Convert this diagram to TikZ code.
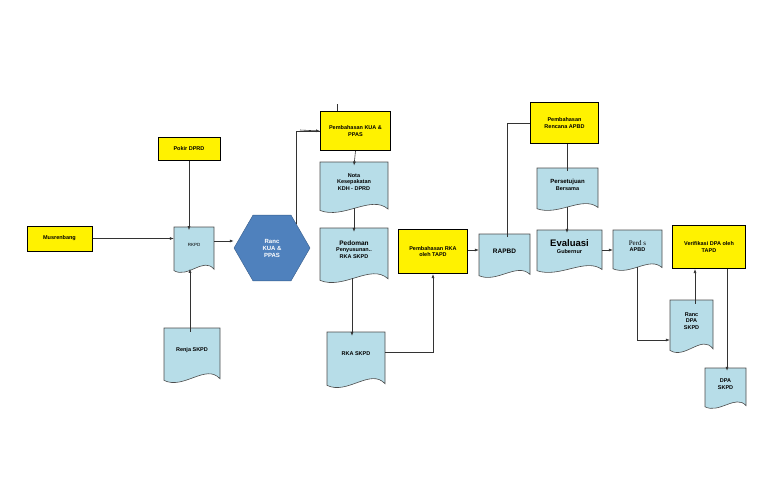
\documentclass[tikz,border=0pt]{standalone}
\usepackage{fontspec}
\setmainfont{Liberation Sans}
\newfontfamily\serifx{Liberation Serif}
\usetikzlibrary{shapes.geometric,arrows.meta}
\tikzset{x=1pt,y=-1pt,
 ybox/.style={draw=black,line width=1pt,fill=yellow,align=center,font=\fontsize{5.5}{6.5}\selectfont\bfseries,inner sep=1pt},
 con/.style={draw=black!80,line width=0.6pt},
 arr/.style={con,-{Latex[length=4pt,width=3pt]}},
 dtext/.style={align=center,font=\fontsize{5.5}{6.5}\selectfont\bfseries,inner sep=1pt}}
\newcommand\docbox[6]{% name x1 y1 x2 y2 text
 \path[fill={rgb,255:red,183;green,221;blue,232},draw=black!70,line width=0.6pt]
 (#2,#3) -- (#4,#3) -- (#4,{#5-0.06*(#5-#3)})
 .. controls ({#2+0.75*(#4-#2)},{#5-0.35*(#5-#3)}) and ({#2+0.35*(#4-#2)},{#5+0.15*(#5-#3)}) .. (#2,{#5-0.03*(#5-#3)}) -- cycle;
 \node[minimum width={(#4-#2)*1pt},minimum height={(#5-#3)*0.85pt},inner sep=0pt] (#1) at ({(#2+#4)/2},{(#3+#5)/2}) {};
 \node[dtext] at ({(#2+#4)/2},{#3+0.4*(#5-#3)}) {#6};}
\begin{document}
\begin{tikzpicture}
\useasboundingbox (0,0) rectangle (768,503);
\node[ybox,minimum width=65pt,minimum height=25pt] (mus) at (59.5,238.5) {Musrenbang};
\node[ybox,minimum width=62pt,minimum height=23pt] (pokir) at (189,148.5) {Pokir DPRD};
\docbox{rkpd}{174}{227}{214}{272}{\fontsize{4.5}{5}\selectfont\mdseries RKPD}
\docbox{renja}{164}{328}{220}{382}{Renja SKPD}
\node[regular polygon,regular polygon sides=6,fill={rgb,255:red,79;green,129;blue,189},draw={rgb,255:red,56;green,93;blue,138},minimum size=76pt,inner sep=0pt,align=center,font=\fontsize{6}{7}\selectfont\bfseries,text=white] (hex) at (272,248) {Ranc\\KUA \&\\PPAS};
\node[ybox,minimum width=70pt,minimum height=39pt,anchor=north west] (kua) at (320,111) {Pembahasan KUA \&\\PPAS};
\draw[con] (337,104) -- (337,111);
\docbox{nota}{320}{162}{388}{212}{Nota\\Kesepakatan\\KDH - DPRD}
\docbox{ped}{320}{228}{388}{282}{\fontsize{6.5}{7.5}\selectfont Pedoman\\Penyusunan..\\RKA SKPD}
\docbox{rka}{327}{332}{385}{387}{RKA SKPD}
\node[ybox,minimum width=69pt,minimum height=44pt,anchor=north west] (prka) at (398,229) {Pembahasan RKA\\oleh TAPD};
\docbox{rapbd}{479}{234}{530}{277}{\fontsize{6.5}{7.5}\selectfont RAPBD}
\node[ybox,minimum width=68pt,minimum height=41pt,anchor=north west] (prapbd) at (530,102) {Pembahasan\\Rencana APBD};
\docbox{pers}{537}{168}{598}{210}{\fontsize{6}{7}\selectfont Persetujuan\\Bersama}
\docbox{eval}{537}{230}{602}{272}{\fontsize{9.5}{11}\selectfont Evaluasi\\Gubernur}
\docbox{perda}{613}{230}{662}{270}{\serifx\mdseries\fontsize{7}{8}\selectfont Perd s\\APBD}
\node[ybox,minimum width=73pt,minimum height=43pt,anchor=north west] (verif) at (672,225) {Verifikasi DPA oleh\\TAPD};
\docbox{rdpa}{670}{300}{713}{352}{Ranc\\DPA\\SKPD}
\docbox{dpa}{705}{368}{746}{408}{DPA\\SKPD}
% connectors
\draw[arr] (mus.east) -- (rkpd.west|-mus.east);
\draw[arr] (pokir.south) -- (rkpd.north-|pokir.south);
\draw[arr] (renja.north-|190,0) -- (rkpd.south-|190,0);
\draw[arr] (rkpd.east|-0,241) -- (hex.west|-0,241);
\draw[con] (hex.north east) -- ++(0,-3) |- (kua.west) ;
\draw[arr] (300,130) -- (kua.west);
\draw[arr] (kua.south) -- (nota.north);
\draw[arr] (nota.south-|354,0) -- (ped.north-|354,0);
\draw[arr] (ped.south-|352,0) -- (rka.north-|352,0);
\draw[arr] (rka.east|-0,352) -| (prka.south);
\draw[arr] (prka.east|-0,250) -- (rapbd.west|-0,250);
\draw[con] (rapbd.north-|507,0) |- (prapbd.west|-0,123);
\draw[con] (prapbd.south-|567,0) -- (pers.north-|567,0);
\draw[arr] (pers.south-|567,0) -- (eval.north-|567,0);
\draw[arr] (eval.east|-0,250) -- (perda.west|-0,250);
\draw[arr] (perda.south-|637,0) |- (rdpa.west|-0,340);
\draw[arr] (rdpa.north-|695,0) -- (verif.south-|695,0);
\draw[arr] (verif.south-|727,0) -- (dpa.north-|727,0);
\end{tikzpicture}
\end{document}
